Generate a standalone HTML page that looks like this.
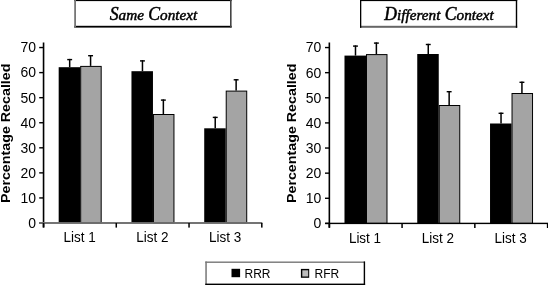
<!DOCTYPE html>
<html><head><meta charset="utf-8"><style>
html,body{margin:0;padding:0;background:#fff;overflow:hidden;}
svg{display:block;}
.tick{font-family:"Liberation Sans",Arial,sans-serif;font-size:13.5px;fill:#000;}
.ytick{font-family:"Liberation Sans",Arial,sans-serif;font-size:14px;fill:#000;}
.leg{font-family:"Liberation Sans",Arial,sans-serif;font-size:12px;fill:#000;}
.yt{font-family:"Liberation Sans",Arial,sans-serif;font-size:13.5px;font-weight:bold;fill:#000;}
.lc{font-size:15.5px;}
.ttl{font-family:"Liberation Serif","Times New Roman",serif;font-size:18px;font-style:italic;fill:#000;stroke:#000;stroke-width:0.5px;}
</style></head><body>
<svg width="548" height="285" viewBox="0 0 548 285">
<rect width="548" height="285" fill="#fff"/>
<rect x="74.20" y="0.00" width="157.40" height="1.10" fill="#000"/>
<rect x="74.20" y="25.80" width="157.40" height="1.80" fill="#000"/>
<rect x="74.20" y="0.00" width="1.80" height="27.60" fill="#777"/>
<rect x="230.00" y="0.00" width="1.60" height="27.60" fill="#444"/>
<text x="153.5" y="19.5" class="ttl" text-anchor="middle" textLength="87.6" lengthAdjust="spacingAndGlyphs">S<tspan class="lc">ame</tspan> C<tspan class="lc">ontext</tspan></text>
<rect x="42.75" y="42.50" width="1.60" height="185.00" fill="#000"/>
<rect x="39.20" y="222.30" width="4.30" height="1.40" fill="#000"/>
<text transform="translate(36.0,227.85) scale(1,1.05)" class="ytick" text-anchor="end">0</text>
<rect x="39.20" y="197.24" width="4.30" height="1.40" fill="#000"/>
<text transform="translate(36.0,202.78571428571428) scale(1,1.05)" class="ytick" text-anchor="end">10</text>
<rect x="39.20" y="172.17" width="4.30" height="1.40" fill="#000"/>
<text transform="translate(36.0,177.72142857142856) scale(1,1.05)" class="ytick" text-anchor="end">20</text>
<rect x="39.20" y="147.11" width="4.30" height="1.40" fill="#000"/>
<text transform="translate(36.0,152.65714285714287) scale(1,1.05)" class="ytick" text-anchor="end">30</text>
<rect x="39.20" y="122.04" width="4.30" height="1.40" fill="#000"/>
<text transform="translate(36.0,127.59285714285714) scale(1,1.05)" class="ytick" text-anchor="end">40</text>
<rect x="39.20" y="96.98" width="4.30" height="1.40" fill="#000"/>
<text transform="translate(36.0,102.52857142857142) scale(1,1.05)" class="ytick" text-anchor="end">50</text>
<rect x="39.20" y="71.91" width="4.30" height="1.40" fill="#000"/>
<text transform="translate(36.0,77.46428571428572) scale(1,1.05)" class="ytick" text-anchor="end">60</text>
<rect x="39.20" y="46.85" width="4.30" height="1.40" fill="#000"/>
<text transform="translate(36.0,52.40000000000001) scale(1,1.05)" class="ytick" text-anchor="end">70</text>
<rect x="58.68" y="67.20" width="21.50" height="155.80" fill="#000"/>
<rect x="80.68" y="66.40" width="20.50" height="156.60" fill="#a4a4a4" stroke="#000" stroke-width="1"/>
<rect x="68.93" y="58.90" width="1.50" height="8.30" fill="#000"/>
<rect x="67.23" y="58.90" width="4.90" height="1.40" fill="#000"/>
<rect x="89.83" y="55.00" width="1.50" height="10.90" fill="#000"/>
<rect x="88.13" y="55.00" width="4.90" height="1.40" fill="#000"/>
<text transform="translate(79.68499999999999,242.00) scale(1,1.15)" class="tick" text-anchor="middle">List 1</text>
<rect x="131.46" y="71.20" width="21.50" height="151.80" fill="#000"/>
<rect x="153.46" y="114.50" width="20.50" height="108.50" fill="#a4a4a4" stroke="#000" stroke-width="1"/>
<rect x="141.71" y="60.20" width="1.50" height="11.00" fill="#000"/>
<rect x="140.01" y="60.20" width="4.90" height="1.40" fill="#000"/>
<rect x="162.61" y="99.40" width="1.50" height="14.60" fill="#000"/>
<rect x="160.91" y="99.40" width="4.90" height="1.40" fill="#000"/>
<text transform="translate(152.455,242.00) scale(1,1.15)" class="tick" text-anchor="middle">List 2</text>
<rect x="204.22" y="128.30" width="21.50" height="94.70" fill="#000"/>
<rect x="226.22" y="91.10" width="20.50" height="131.90" fill="#a4a4a4" stroke="#000" stroke-width="1"/>
<rect x="214.47" y="116.70" width="1.50" height="11.60" fill="#000"/>
<rect x="212.78" y="116.70" width="4.90" height="1.40" fill="#000"/>
<rect x="235.38" y="79.10" width="1.50" height="11.50" fill="#000"/>
<rect x="233.68" y="79.10" width="4.90" height="1.40" fill="#000"/>
<text transform="translate(225.225,242.00) scale(1,1.15)" class="tick" text-anchor="middle">List 3</text>
<rect x="39.50" y="222.05" width="222.81" height="1.90" fill="#6e6e6e"/>
<rect x="42.75" y="223.00" width="1.60" height="4.50" fill="#000"/>
<rect x="115.52" y="223.00" width="1.50" height="4.60" fill="#000"/>
<rect x="188.29" y="223.00" width="1.50" height="4.60" fill="#000"/>
<rect x="261.06" y="223.00" width="1.50" height="4.60" fill="#000"/>
<text transform="translate(9.899999999999999,133.3) rotate(-90)" class="yt" text-anchor="middle" textLength="139.5" lengthAdjust="spacingAndGlyphs">Percentage Recalled</text>
<rect x="360.00" y="0.00" width="157.20" height="1.10" fill="#000"/>
<rect x="360.00" y="25.80" width="157.20" height="2.00" fill="#666"/>
<rect x="360.00" y="0.00" width="1.30" height="27.80" fill="#000"/>
<rect x="515.80" y="0.00" width="1.40" height="27.80" fill="#000"/>
<text x="439" y="19.5" class="ttl" text-anchor="middle" textLength="109.4" lengthAdjust="spacingAndGlyphs">D<tspan class="lc">ifferent</tspan> C<tspan class="lc">ontext</tspan></text>
<rect x="328.55" y="42.50" width="1.60" height="185.00" fill="#000"/>
<rect x="325.00" y="222.70" width="4.30" height="1.40" fill="#000"/>
<text transform="translate(321.3,228.25) scale(1,1.05)" class="ytick" text-anchor="end">0</text>
<rect x="325.00" y="197.58" width="4.30" height="1.40" fill="#000"/>
<text transform="translate(321.3,203.12857142857143) scale(1,1.05)" class="ytick" text-anchor="end">10</text>
<rect x="325.00" y="172.46" width="4.30" height="1.40" fill="#000"/>
<text transform="translate(321.3,178.00714285714284) scale(1,1.05)" class="ytick" text-anchor="end">20</text>
<rect x="325.00" y="147.34" width="4.30" height="1.40" fill="#000"/>
<text transform="translate(321.3,152.88571428571427) scale(1,1.05)" class="ytick" text-anchor="end">30</text>
<rect x="325.00" y="122.21" width="4.30" height="1.40" fill="#000"/>
<text transform="translate(321.3,127.7642857142857) scale(1,1.05)" class="ytick" text-anchor="end">40</text>
<rect x="325.00" y="97.09" width="4.30" height="1.40" fill="#000"/>
<text transform="translate(321.3,102.64285714285712) scale(1,1.05)" class="ytick" text-anchor="end">50</text>
<rect x="325.00" y="71.97" width="4.30" height="1.40" fill="#000"/>
<text transform="translate(321.3,77.52142857142854) scale(1,1.05)" class="ytick" text-anchor="end">60</text>
<rect x="325.00" y="46.85" width="4.30" height="1.40" fill="#000"/>
<text transform="translate(321.3,52.399999999999956) scale(1,1.05)" class="ytick" text-anchor="end">70</text>
<rect x="344.49" y="55.60" width="21.50" height="167.80" fill="#000"/>
<rect x="366.49" y="54.60" width="20.50" height="168.80" fill="#a4a4a4" stroke="#000" stroke-width="1"/>
<rect x="354.74" y="45.40" width="1.50" height="10.20" fill="#000"/>
<rect x="353.04" y="45.40" width="4.90" height="1.40" fill="#000"/>
<rect x="375.63" y="42.40" width="1.50" height="11.70" fill="#000"/>
<rect x="373.94" y="42.40" width="4.90" height="1.40" fill="#000"/>
<text transform="translate(364.985,242.60) scale(1,1.15)" class="tick" text-anchor="middle">List 1</text>
<rect x="417.25" y="54.00" width="21.50" height="169.40" fill="#000"/>
<rect x="439.25" y="105.50" width="20.50" height="117.90" fill="#a4a4a4" stroke="#000" stroke-width="1"/>
<rect x="427.50" y="43.80" width="1.50" height="10.20" fill="#000"/>
<rect x="425.81" y="43.80" width="4.90" height="1.40" fill="#000"/>
<rect x="448.40" y="91.00" width="1.50" height="14.00" fill="#000"/>
<rect x="446.70" y="91.00" width="4.90" height="1.40" fill="#000"/>
<text transform="translate(437.755,242.60) scale(1,1.15)" class="tick" text-anchor="middle">List 2</text>
<rect x="490.03" y="123.50" width="21.50" height="99.90" fill="#000"/>
<rect x="512.03" y="93.50" width="20.50" height="129.90" fill="#a4a4a4" stroke="#000" stroke-width="1"/>
<rect x="500.28" y="112.60" width="1.50" height="10.90" fill="#000"/>
<rect x="498.58" y="112.60" width="4.90" height="1.40" fill="#000"/>
<rect x="521.18" y="81.60" width="1.50" height="11.40" fill="#000"/>
<rect x="519.48" y="81.60" width="4.90" height="1.40" fill="#000"/>
<text transform="translate(510.52500000000003,242.60) scale(1,1.15)" class="tick" text-anchor="middle">List 3</text>
<rect x="325.30" y="222.70" width="222.81" height="1.40" fill="#000"/>
<rect x="328.55" y="223.40" width="1.60" height="4.50" fill="#000"/>
<rect x="401.32" y="223.40" width="1.50" height="4.60" fill="#000"/>
<rect x="474.09" y="223.40" width="1.50" height="4.60" fill="#000"/>
<rect x="546.86" y="223.40" width="1.50" height="4.60" fill="#000"/>
<text transform="translate(295.7,133.3) rotate(-90)" class="yt" text-anchor="middle" textLength="139.5" lengthAdjust="spacingAndGlyphs">Percentage Recalled</text>
<rect x="205.30" y="261.50" width="159.70" height="1.40" fill="#777"/>
<rect x="205.30" y="261.50" width="1.50" height="23.50" fill="#777"/>
<rect x="363.70" y="261.50" width="1.40" height="23.50" fill="#000"/>
<rect x="205.30" y="283.60" width="159.80" height="1.40" fill="#000"/>
<rect x="231.50" y="268.80" width="8.60" height="8.40" fill="#000"/>
<text x="244.5" y="277.5" class="leg">RRR</text>
<rect x="300.90" y="268.90" width="8.30" height="8.90" fill="#000"/>
<rect x="302.30" y="270.30" width="5.90" height="6.20" fill="#bcbcbc"/>
<text x="314.5" y="277.5" class="leg">RFR</text>
</svg>
</body></html>
